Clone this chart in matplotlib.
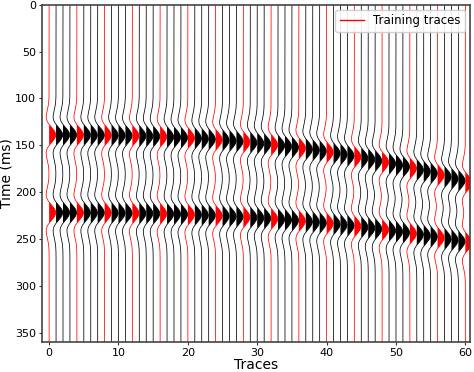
import numpy as np
import matplotlib
matplotlib.use("Agg")
import matplotlib.pyplot as plt

# Trace indices
traces = list(range(61))
# Training (red) traces
training_traces = list(range(0, 61, 4))

# Arrival time (ms) of event 1 per trace
event1_times = [139.0, 139.0, 139.0, 139.0, 139.1, 139.1, 139.2, 139.2, 139.3, 139.4,
                139.6, 139.7, 139.9, 140.1, 140.3, 140.6, 140.9, 141.2, 141.5, 141.9,
                142.3, 142.7, 143.2, 143.6, 144.2, 144.7, 145.3, 145.9, 146.6, 147.3,
                148.0, 148.8, 149.6, 150.4, 151.3, 152.3, 153.2, 154.2, 155.3, 156.4,
                157.5, 158.7, 159.9, 161.2, 162.5, 163.8, 165.2, 166.7, 168.2, 169.7,
                171.3, 173.0, 174.7, 176.4, 178.2, 180.0, 181.9, 183.9, 185.9, 187.9,
                190.0]
# Arrival time (ms) of event 2 per trace
event2_times = [222.0, 222.0, 222.0, 222.0, 222.0, 222.1, 222.1, 222.1, 222.2, 222.3,
                222.4, 222.5, 222.6, 222.7, 222.8, 223.0, 223.2, 223.4, 223.6, 223.8,
                224.1, 224.3, 224.6, 224.9, 225.2, 225.6, 226.0, 226.3, 226.8, 227.2,
                227.7, 228.1, 228.6, 229.2, 229.7, 230.3, 230.9, 231.6, 232.2, 232.9,
                233.6, 234.3, 235.1, 235.9, 236.7, 237.6, 238.5, 239.4, 240.3, 241.3,
                242.3, 243.3, 244.4, 245.5, 246.6, 247.7, 248.9, 250.1, 251.4, 252.7,
                254.0]
event_amplitudes = [0.95, 0.95]
wavelet_freq = 20.0  # Hz

t = np.arange(0, 361, 0.5)  # ms


def ricker(tt, f):
    a = (np.pi * f * tt / 1000.0) ** 2
    return (1 - 2 * a) * np.exp(-a)


fig = plt.figure(figsize=(4.74, 3.72), dpi=100)
ax = fig.add_axes([0.089, 0.081, 0.903, 0.906])

for i in traces:
    tr = np.zeros_like(t)
    for times, amp in zip([event1_times, event2_times], event_amplitudes):
        tr += amp * ricker(t - times[i], wavelet_freq)
    color = "red" if i in training_traces else "black"
    ax.plot(i + tr, t, color=color, lw=0.55)
    ax.fill_betweenx(t, i, i + tr, where=tr > 0, color=color, lw=0)

ax.plot([], [], color="red", lw=1.0, label="Training traces")
ax.legend(loc="upper right", fontsize=8.5, framealpha=0.9, handlelength=2.0,
          borderaxespad=0.4, borderpad=0.4)

ax.set_xlim(-1, 60.7)
ax.set_ylim(360, 0)
ax.set_xticks([0, 10, 20, 30, 40, 50, 60])
ax.set_yticks([0, 50, 100, 150, 200, 250, 300, 350])
ax.tick_params(labelsize=8, length=2.5, pad=2, color="#333333")
ax.set_xlabel("Traces", fontsize=10, labelpad=0)
ax.set_ylabel("Time (ms)", fontsize=10, labelpad=1)
for s in ax.spines.values():
    s.set_color("#444444")
    s.set_linewidth(1.2)

fig.savefig("out.png", dpi=100)
